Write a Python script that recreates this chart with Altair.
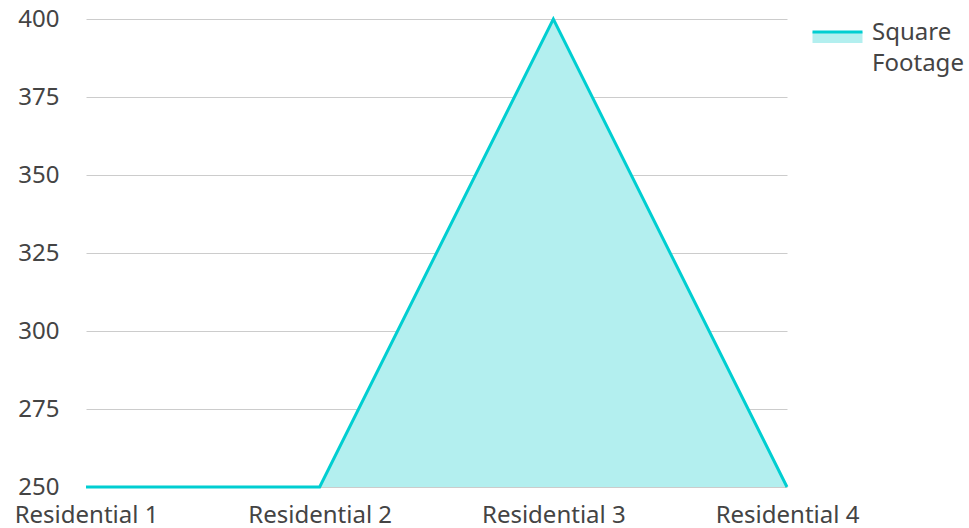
import altair as alt
import pandas as pd

categories = ["Residential 1", "Residential 2", "Residential 3", "Residential 4"]
square_footage = [250, 250, 400, 250]
series_name = "Square Footage"
y_ticks = [250, 275, 300, 325, 350, 375, 400]

df = pd.DataFrame({
    "category": categories,
    "value": square_footage,
    "series": [series_name] * len(categories),
})

LINE = "#00CED1"
FILL = "#b3efef"
FONT = "Noto Sans"
FS = 24

x = alt.X("category:N", sort=categories, title=None,
          scale=alt.Scale(padding=0),
          axis=alt.Axis(labelAngle=0, domain=False, ticks=False, grid=False,
                        labelFont=FONT, labelFontSize=FS, labelColor="#444",
                        labelPadding=16))
y = alt.Y("value:Q", title=None,
          scale=alt.Scale(domain=[250, 400], nice=False, zero=False),
          axis=alt.Axis(values=y_ticks, domain=False, ticks=False, grid=True,
                        gridColor="#cccccc", gridWidth=1,
                        labelFont=FONT, labelFontSize=FS, labelColor="#444",
                        labelPadding=27))

legend = alt.Legend(title=None, orient="none", legendX=725, legendY=-13,
                    symbolType="M-1,-0.02H1V0.42H-1Z", symbolSize=2500,
                    symbolStrokeWidth=3, symbolDash=[50, 1000],
                    labelFont=FONT, labelFontSize=FS, labelColor="#444",
                    labelOffset=8, labelExpr="split(datum.label, ' ')",
                    padding=0)

area = alt.Chart(df).mark_area(opacity=1).encode(
    x=x, y=y, y2=alt.datum(250),
    fill=alt.Fill("series:N", scale=alt.Scale(range=[FILL]), legend=legend),
)
line = alt.Chart(df).mark_line(strokeWidth=3).encode(
    x=x, y=y,
    stroke=alt.Stroke("series:N", scale=alt.Scale(range=[LINE]), legend=legend),
)

chart = alt.layer(area, line).properties(
    width=701, height=468,
    autosize=alt.AutoSizeParams(type="none"),
    padding={"left": 86, "top": 19, "right": 182, "bottom": 41},
).configure(
    font=FONT,
    style={"guide-label": {"lineHeight": 31}},
).configure_view(stroke=None)

chart.save("out.html", embed_options={"renderer": "svg", "actions": False})
